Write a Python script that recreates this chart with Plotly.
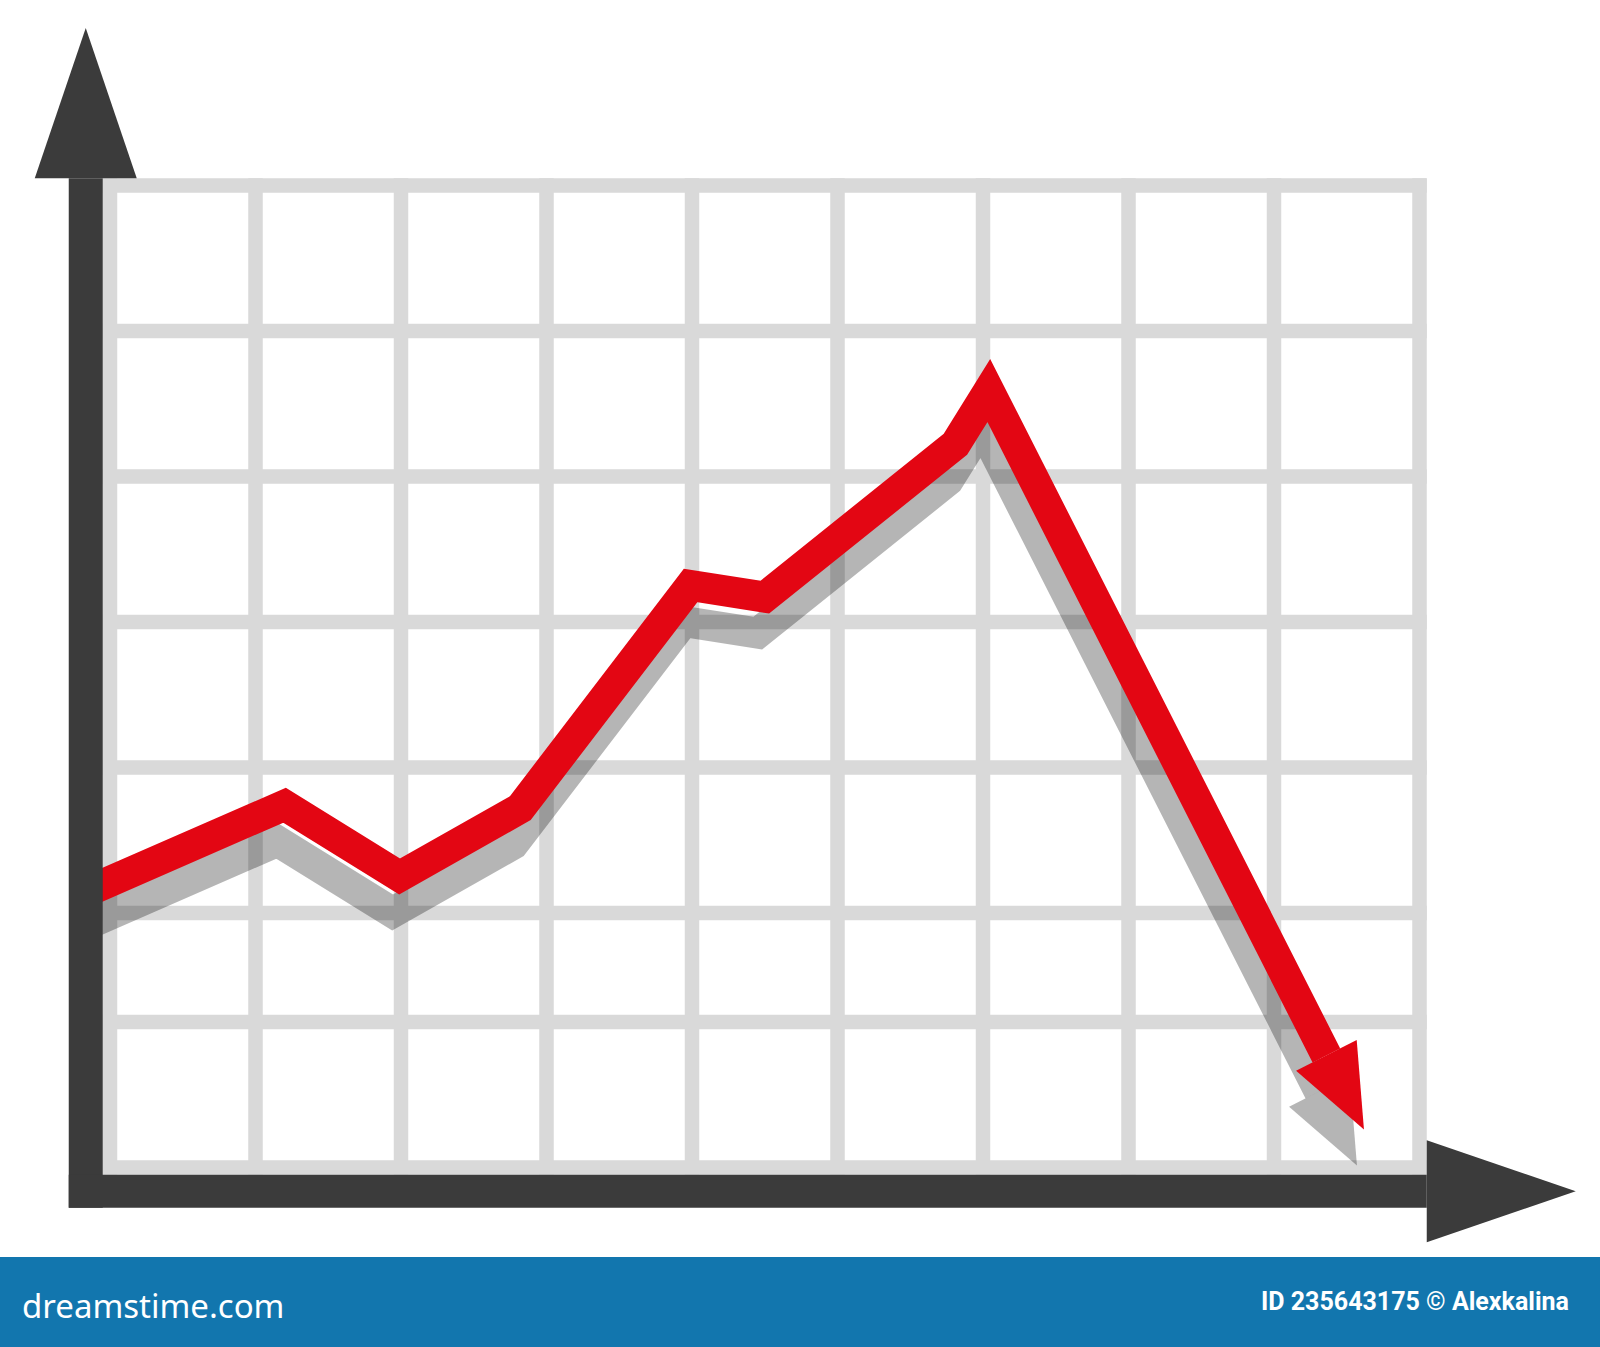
import numpy as np
import plotly.graph_objects as go

# ---------------- data (grid-cell units) ----------------
X_GRID = [0, 1, 2, 3, 4, 5, 6, 7, 8, 9]
Y_GRID = [0, 1, 1.75, 2.75, 3.75, 4.75, 5.75, 6.75]

LINE_X = [-0.15, 1.20, 1.99, 2.82, 3.99, 4.50, 5.81, 6.04, 8.36]
LINE_Y = [1.90, 2.49, 2.00, 2.47, 4.00, 3.92, 4.97, 5.34, 0.77]

BANNER_LEFT = "dreamstime.com"
BANNER_RIGHT = "ID 235643175 © Alexkalina"

# ---------------- styles / geometry ----------------
W, H = 1600, 1347
PX = 145.5                      # pixels per grid unit
X0 = -110 / PX
X1 = X0 + W / PX
Y1 = 1167.5 / PX
Y0 = Y1 - H / PX

def u(px):
    return px / PX

RED = "#e30613"
GRID = "#d9d9d9"
AXIS = "#3b3b3b"
BLUE = "#1276ae"
SHADOW = "rgba(0,0,0,0.29)"
GRID_W = 14.5
LINE_W = 31
SH_DX, SH_DY = u(-7), u(-36)
HEAD_LEN, HEAD_HALF = u(83), u(34)

gx_min, gx_max = min(X_GRID), max(X_GRID)
gy_min, gy_max = min(Y_GRID), max(Y_GRID)
ext = u(GRID_W / 2)

shapes = []
for x in X_GRID:
    shapes.append(dict(type="line", xref="x", yref="y", x0=x, x1=x,
                       y0=gy_min - ext, y1=gy_max + ext,
                       line=dict(color=GRID, width=GRID_W), layer="below"))
for y in Y_GRID:
    shapes.append(dict(type="line", xref="x", yref="y", y0=y, y1=y,
                       x0=gx_min - ext, x1=gx_max + ext,
                       line=dict(color=GRID, width=GRID_W), layer="below"))

# axes with arrows
ax_w = u(34)
ax_right = gx_min - ext           # right edge of y-axis bar
ax_left = ax_right - ax_w
ax_bot_top = gy_min - ext         # top edge of x-axis bar
ax_bot = ax_bot_top - u(33)
grid_top = gy_max + ext
grid_right = gx_max + ext
ycx = (ax_left + ax_right) / 2
xcy = (ax_bot + ax_bot_top) / 2

def path(pts):
    return "M " + " L ".join(f"{a:.4f},{b:.4f}" for a, b in pts) + " Z"

shapes.append(dict(type="rect", xref="x", yref="y", x0=ax_left, x1=ax_right,
                   y0=ax_bot, y1=grid_top, fillcolor=AXIS, line=dict(width=0), layer="above"))
shapes.append(dict(type="path", xref="x", yref="y",
                   path=path([(ycx - u(51), grid_top), (ycx + u(51), grid_top), (ycx, grid_top + u(150))]),
                   fillcolor=AXIS, line=dict(width=0), layer="above"))
shapes.append(dict(type="rect", xref="x", yref="y", x0=ax_left, x1=grid_right,
                   y0=ax_bot, y1=ax_bot_top, fillcolor=AXIS, line=dict(width=0), layer="above"))
shapes.append(dict(type="path", xref="x", yref="y",
                   path=path([(grid_right, xcy + u(51)), (grid_right, xcy - u(51)), (grid_right + u(149), xcy)]),
                   fillcolor=AXIS, line=dict(width=0), layer="above"))

# banner
shapes.append(dict(type="rect", xref="paper", yref="paper", x0=0, x1=1, y0=0, y1=90 / H,
                   fillcolor=BLUE, line=dict(width=0), layer="above"))

# arrow head from last segment
lx = np.array(LINE_X, dtype=float)
ly = np.array(LINE_Y, dtype=float)
d = np.array([lx[-1] - lx[-2], ly[-1] - ly[-2]])
d /= np.linalg.norm(d)
p = np.array([-d[1], d[0]])
end = np.array([lx[-1], ly[-1]])
tip = end + d * HEAD_LEN
c1 = end + p * HEAD_HALF
c2 = end - p * HEAD_HALF
head_x = [c1[0], tip[0], c2[0], c1[0]]
head_y = [c1[1], tip[1], c2[1], c1[1]]

fig = go.Figure()
# shadow
fig.add_trace(go.Scatter(x=lx + SH_DX, y=ly + SH_DY, mode="lines",
                         line=dict(color=SHADOW, width=LINE_W), hoverinfo="skip"))
fig.add_trace(go.Scatter(x=np.array(head_x) + SH_DX, y=np.array(head_y) + SH_DY, mode="lines",
                         fill="toself", fillcolor=SHADOW, line=dict(width=0), hoverinfo="skip"))
# red line
fig.add_trace(go.Scatter(x=lx, y=ly, mode="lines",
                         line=dict(color=RED, width=LINE_W), hoverinfo="skip"))
fig.add_trace(go.Scatter(x=head_x, y=head_y, mode="lines",
                         fill="toself", fillcolor=RED, line=dict(width=0), hoverinfo="skip"))

fig.update_layout(
    width=W, height=H, margin=dict(l=0, r=0, t=0, b=0),
    paper_bgcolor="white", plot_bgcolor="white", showlegend=False,
    xaxis=dict(range=[X0, X1], visible=False, fixedrange=True),
    yaxis=dict(range=[Y0, Y1], visible=False, fixedrange=True),
    shapes=shapes,
    annotations=[
        dict(text=BANNER_LEFT, xref="paper", yref="paper", x=20 / W, y=(H - 1305) / H,
             xanchor="left", yanchor="middle", showarrow=False,
             font=dict(family="Noto Sans", size=33, color="white")),
        dict(text="<b>" + BANNER_RIGHT + "</b>", xref="paper", yref="paper", x=1571 / W,
             y=(H - 1301) / H, xanchor="right", yanchor="middle", showarrow=False,
             font=dict(family="Roboto", size=25, color="white")),
    ],
)

css = ("<style>html,body{margin:0;padding:0;overflow:hidden}"
       ".js-line{stroke-miterlimit:10 !important;stroke-linejoin:miter !important}</style>")
fig.write_html("out.html", config={"staticPlot": True},
               post_script="document.head.insertAdjacentHTML('beforeend', %r);" % css)
